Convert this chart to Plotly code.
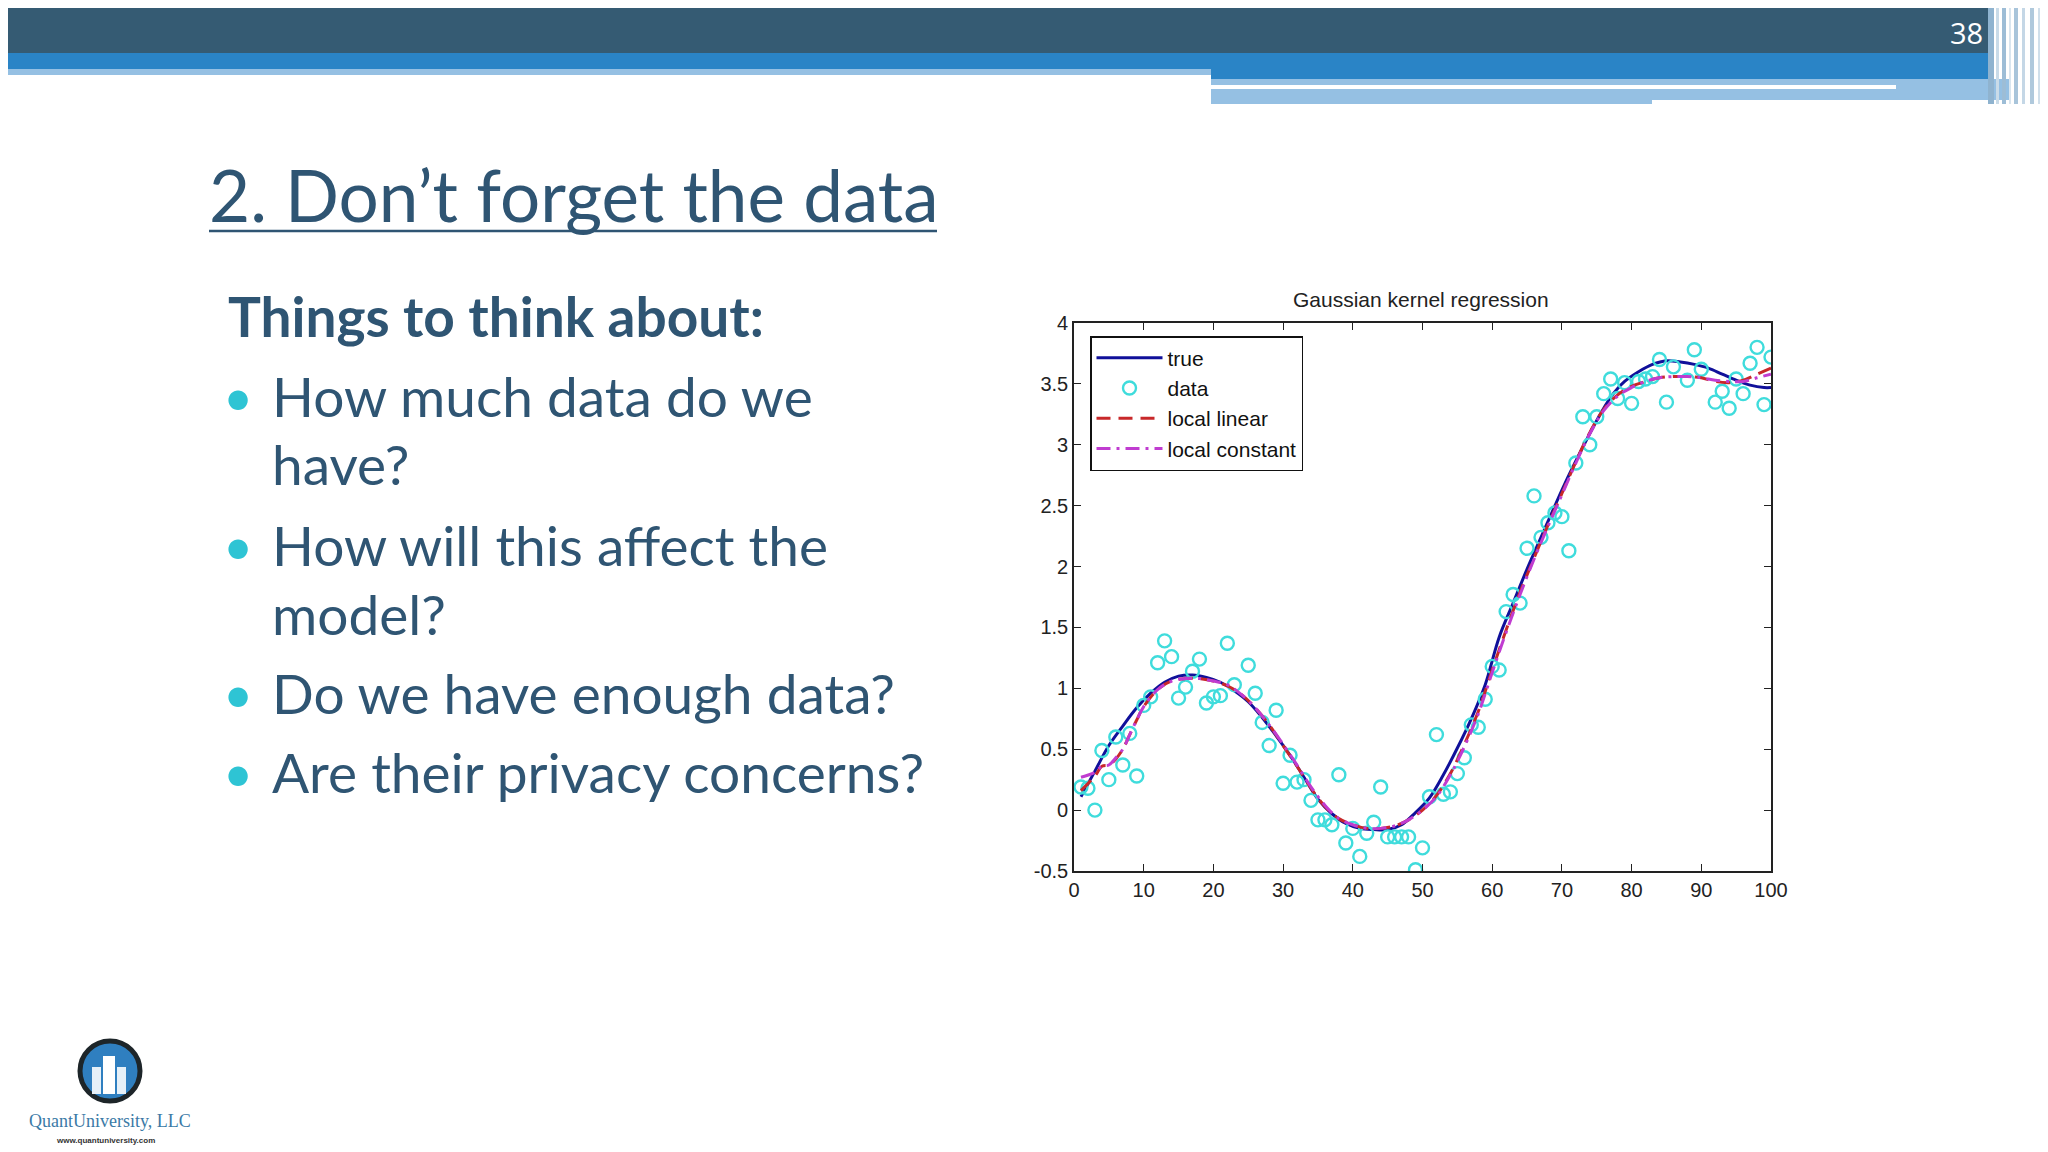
import plotly.graph_objects as go

# ---------------- data ----------------
x_true = [1, 3, 5, 7, 9, 11, 13, 15, 17, 19, 21, 23, 25, 27, 29, 31, 33, 35, 37, 39,
          41, 43, 45, 47, 49, 51, 53, 55, 57, 59, 61, 63, 65, 67, 69, 71, 73, 75, 77, 79,
          81, 83, 85, 87, 89, 91, 93, 95, 97, 99, 100]
y_true = [0.11, 0.32, 0.53, 0.69, 0.84, 0.96, 1.05, 1.10, 1.11, 1.09, 1.05, 0.98, 0.89, 0.76, 0.61, 0.45, 0.27, 0.09, -0.03, -0.11,
          -0.15, -0.16, -0.16, -0.12, -0.02, 0.10, 0.29, 0.51, 0.75, 1.03, 1.42, 1.70, 1.98, 2.24, 2.50, 2.75, 2.98, 3.20, 3.39, 3.52,
          3.60, 3.66, 3.69, 3.68, 3.66, 3.63, 3.58, 3.53, 3.49, 3.47, 3.47]

x_data = [1, 2, 3, 4, 5, 6, 7, 8, 9, 10, 11, 12, 13, 14, 15, 16, 17, 18, 19, 20,
          21, 22, 23, 25, 26, 27, 28, 29, 30, 31, 32, 33, 34, 35, 36, 37, 38, 39, 40,
          41, 42, 43, 44, 45, 46, 47, 48, 49, 50, 51, 52, 53, 54, 55, 56, 57, 58, 59, 60,
          61, 62, 63, 64, 65, 66, 67, 68, 69, 70, 71, 72, 73, 74, 75, 76, 77, 78, 79, 80,
          81, 82, 83, 84, 85, 86, 88, 89, 90, 92, 93, 94, 95, 96, 97, 98, 99, 100]
y_data = [0.19, 0.18, 0.00, 0.49, 0.25, 0.60, 0.37, 0.63, 0.28, 0.86, 0.93, 1.21, 1.39, 1.26, 0.92, 1.01, 1.14, 1.24, 0.88, 0.93,
          0.94, 1.37, 1.03, 1.19, 0.96, 0.72, 0.53, 0.82, 0.22, 0.45, 0.23, 0.25, 0.08, -0.08, -0.08, -0.12, 0.29, -0.27, -0.15,
          -0.38, -0.19, -0.10, 0.19, -0.22, -0.22, -0.22, -0.22, -0.49, -0.31, 0.11, 0.62, 0.13, 0.15, 0.30, 0.43, 0.70, 0.68, 0.91, 1.18,
          1.15, 1.63, 1.77, 1.70, 2.15, 2.58, 2.24, 2.36, 2.44, 2.41, 2.13, 2.85, 3.23, 3.00, 3.23, 3.42, 3.54, 3.38, 3.51, 3.34,
          3.52, 3.54, 3.56, 3.70, 3.35, 3.64, 3.53, 3.78, 3.62, 3.35, 3.44, 3.30, 3.54, 3.42, 3.67, 3.80, 3.33, 3.72]

x_fit = [1, 3, 4, 5, 6, 7, 8, 9, 10, 12, 14, 16, 18, 20, 22, 24, 26, 28, 30, 32,
         34, 36, 38, 40, 42, 44, 46, 48, 50, 52, 54, 56, 58, 60, 62, 64, 66, 68, 70, 72,
         74, 76, 78, 80, 82, 84, 86, 88, 90, 92, 94, 96, 98, 100]
y_loclin = [0.16, 0.28, 0.36, 0.37, 0.42, 0.50, 0.62, 0.74, 0.85, 0.99, 1.06, 1.08, 1.08, 1.06, 1.02, 0.95, 0.84, 0.70, 0.53, 0.36,
            0.18, 0.03, -0.07, -0.12, -0.15, -0.15, -0.13, -0.08, 0.00, 0.12, 0.30, 0.54, 0.81, 1.15, 1.48, 1.79, 2.07, 2.34, 2.60, 2.86,
            3.10, 3.29, 3.41, 3.48, 3.52, 3.55, 3.56, 3.56, 3.55, 3.52, 3.51, 3.53, 3.58, 3.63]
y_locconst = [0.27, 0.31, 0.36, 0.37, 0.43, 0.50, 0.62, 0.74, 0.85, 0.99, 1.06, 1.08, 1.08, 1.06, 1.03, 0.95, 0.84, 0.70, 0.54, 0.37,
              0.19, 0.04, -0.07, -0.12, -0.15, -0.15, -0.13, -0.08, 0.00, 0.11, 0.29, 0.52, 0.79, 1.13, 1.46, 1.77, 2.06, 2.33, 2.59, 2.85,
              3.09, 3.28, 3.40, 3.47, 3.52, 3.55, 3.56, 3.56, 3.55, 3.53, 3.52, 3.52, 3.55, 3.58]

x_ticks = [0, 10, 20, 30, 40, 50, 60, 70, 80, 90, 100]
y_ticks = [-0.5, 0, 0.5, 1, 1.5, 2, 2.5, 3, 3.5, 4]
y_ticktext = ["-0.5", "0", "0.5", "1", "1.5", "2", "2.5", "3", "3.5", "4"]

chart_title = "Gaussian kernel regression"
slide_title = "2. Don’t forget the data"
heading = "Things to think about:"
bullet_lines = [("How much data do we", True), ("have?", False),
                ("How will this affect the", True), ("model?", False),
                ("Do we have enough data?", True), ("Are their privacy concerns?", True)]

# ---------------- layout geometry (pixels in the 2048x1152 slide) ----------------
OFF = 8                      # page body margin of the html page
W, H = 2048 - OFF, 1152 - OFF
PL, PR, PT, PB = 1074, 1771, 323, 871


def px(x):
    return (x - PL) / (PR - PL)


def py(y):
    return (PB - y) / (PB - PT)


fig = go.Figure()
fig.add_trace(go.Scatter(x=x_true, y=y_true, mode="lines", name="true",
                         line=dict(color="#10109a", width=3, shape="spline"), legendgroup="a"))
fig.add_trace(go.Scatter(x=x_data, y=y_data, mode="markers", name="data",
                         marker=dict(symbol="circle-open", size=13, color="#3fdcdc",
                                     line=dict(width=2.4, color="#3fdcdc")), legendgroup="b"))
fig.add_trace(go.Scatter(x=x_fit, y=y_loclin, mode="lines", name="local linear",
                         line=dict(color="#c8282a", width=3, dash="14px,8px", shape="spline"), legendgroup="c"))
fig.add_trace(go.Scatter(x=x_fit, y=y_locconst, mode="lines", name="local constant",
                         line=dict(color="#c03cd0", width=3, dash="14px,6px,3px,6px", shape="spline"), legendgroup="d"))

axis_font = dict(family="Liberation Sans, Arial, sans-serif", size=20, color="#222222")
fig.update_layout(
    width=W, height=H,
    margin=dict(l=PL - OFF, r=2048 - PR, t=PT - OFF, b=1152 - PB, pad=0),
    paper_bgcolor="white", plot_bgcolor="white",
    showlegend=True,
    legend=dict(x=px(1090), y=py(336), xanchor="left", yanchor="top",
                bgcolor="white", bordercolor="#111111", borderwidth=1.5,
                font=dict(family="Liberation Sans, Arial, sans-serif", size=21, color="#111111"),
                itemwidth=66, tracegroupgap=0),
    xaxis=dict(range=[0, 100], tickvals=x_ticks, ticktext=[str(v) for v in x_ticks],
               ticks="inside", ticklen=7, tickwidth=1.3, tickcolor="#222222",
               showline=True, linecolor="#222222", linewidth=1.6, mirror="ticks",
               showgrid=False, zeroline=False, tickfont=axis_font, fixedrange=True),
    yaxis=dict(range=[-0.5, 4], tickvals=y_ticks, ticktext=y_ticktext,
               ticks="inside", ticklen=7, tickwidth=1.3, tickcolor="#222222",
               showline=True, linecolor="#222222", linewidth=1.6, mirror="ticks",
               showgrid=False, zeroline=False, tickfont=axis_font, fixedrange=True),
)

shapes = []


def rect(x0, y0, x1, y1, color):
    shapes.append(dict(type="rect", xref="paper", yref="paper", x0=px(x0), x1=px(x1),
                       y0=py(y1), y1=py(y0), fillcolor=color, line=dict(width=0), layer="below"))


# header bars
rect(-10, -10, 1990, 53, "#355b73")
rect(-10, 53, 1211, 69, "#2a84c6")
rect(-10, 69, 1211, 75, "#95c0e3")
rect(1211, 53, 1990, 79, "#2a84c6")
rect(1211, 79, 2010, 104, "#95c0e3")
rect(1211, 85, 1896, 89, "#ffffff")
rect(1652, 100, 2010, 104, "#ffffff")
# right edge stripes
stripes = [(1988, 1994, "#8fb3cf"), (1996, 1999, "#c9dbe8"), (2002, 2006, "#9dbdd6"),
           (2009, 2011, "#d8e5ef"), (2014, 2018, "#a8c4da"), (2022, 2025, "#c4d7e6"),
           (2030, 2034, "#b0c9dc"), (2038, 2041, "#d0dfea")]
for a, b, c in stripes:
    rect(a, -10, b, 104, c)

# title underline
shapes.append(dict(type="line", xref="paper", yref="paper", x0=px(209), x1=px(937),
                   y0=py(231), y1=py(231), line=dict(color="#2f5573", width=2.5)))

# logo
cx, cy, r = 110, 1071, 30
shapes.append(dict(type="circle", xref="paper", yref="paper", x0=px(cx - r), x1=px(cx + r),
                   y0=py(cy + r), y1=py(cy - r), fillcolor="#2f7fc0", line=dict(color="#1d2529", width=5)))
for (a, t, b, c) in [(92, 1067, 101, "#e6f0f8"), (103, 1056, 115, "#ffffff"), (117, 1067, 126, "#e6f0f8")]:
    shapes.append(dict(type="rect", xref="paper", yref="paper", x0=px(a), x1=px(b),
                       y0=py(1094), y1=py(t), fillcolor=c, line=dict(width=0)))

fig.update_layout(shapes=shapes)

ann = []
text_col = "#2f5573"
ann.append(dict(text="38", x=px(1966), y=py(32), xref="paper", yref="paper", showarrow=False,
                xanchor="center", yanchor="middle",
                font=dict(family="Open Sans, sans-serif", size=29, color="white")))
ann.append(dict(text=slide_title, x=px(207), y=py(194), xref="paper", yref="paper", showarrow=False,
                xanchor="left", yanchor="middle",
                font=dict(family="Lato, sans-serif", size=71, color=text_col)))
ann.append(dict(text="<b>" + heading + "</b>", x=px(226), y=py(316), xref="paper", yref="paper",
                showarrow=False, xanchor="left", yanchor="middle",
                font=dict(family="Lato, sans-serif", size=55, color=text_col)))
line_y = [396, 464, 545, 614, 693, 772]
for (txt, has_bullet), yy in zip(bullet_lines, line_y):
    ann.append(dict(text=txt, x=px(270), y=py(yy), xref="paper", yref="paper", showarrow=False,
                    xanchor="left", yanchor="middle",
                    font=dict(family="Lato, sans-serif", size=55, color=text_col)))
    if has_bullet:
        ann.append(dict(text="•", x=px(238), y=py(yy), xref="paper", yref="paper", showarrow=False,
                        xanchor="center", yanchor="middle",
                        font=dict(family="Lato, sans-serif", size=52, color="#2ec4d4")))
ann.append(dict(text=chart_title, x=px(1421), y=py(299), xref="paper", yref="paper", showarrow=False,
                xanchor="center", yanchor="middle",
                font=dict(family="Liberation Sans, Arial, sans-serif", size=21, color="#222222")))
ann.append(dict(text="QuantUniversity, LLC", x=px(110), y=py(1121), xref="paper", yref="paper",
                showarrow=False, xanchor="center", yanchor="middle",
                font=dict(family="Liberation Serif, serif", size=18, color="#3b7aa6")))
ann.append(dict(text="<b>www.quantuniversity.com</b>", x=px(106), y=py(1140), xref="paper", yref="paper",
                showarrow=False, xanchor="center", yanchor="middle",
                font=dict(family="Liberation Sans, sans-serif", size=8, color="#333333")))
fig.update_layout(annotations=ann)

fig.write_html("out.html")
